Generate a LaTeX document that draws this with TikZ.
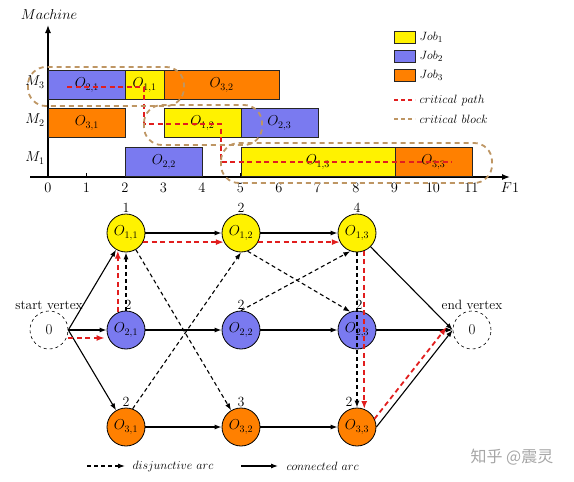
\documentclass[tikz,border=0pt]{standalone}
\usepackage{fontspec}
\newfontfamily\cjk{Noto Sans CJK SC}
\usetikzlibrary{arrows.meta,calc}
\definecolor{jobY}{RGB}{255,242,0}
\definecolor{jobB}{RGB}{122,122,240}
\definecolor{jobO}{RGB}{255,128,0}
\definecolor{critR}{RGB}{225,30,30}
\definecolor{blkT}{RGB}{190,150,100}
\begin{document}
\begin{tikzpicture}[x=1pt,y=-1pt,
  every node/.style={font=\fontsize{14}{16}\selectfont},
  bar/.style={draw=black!85, line width=0.8pt, minimum height=29pt, inner sep=0, anchor=south west},
  legbox/.style={draw=black!85, line width=0.8pt, minimum width=21pt, minimum height=12pt, inner sep=0},
  axis/.style={line width=1.3pt, -{Latex[length=8pt,width=6pt]}},
  critg/.style={critR, line width=1.8pt, dash pattern=on 5pt off 3.5pt},
  blk/.style={blkT, line width=1.8pt, dash pattern=on 5pt off 4pt, rounded corners=18pt},
  opn/.style={circle, draw, line width=0.8pt, minimum size=38pt, inner sep=0, font=\fontsize{14.5}{16}\selectfont},
  lbl/.style={inner sep=0.5pt, font=\fontsize{14}{16}\selectfont},
  con/.style={line width=1.1pt, -{Latex[length=7pt,width=5pt]}},
  dis/.style={line width=1.1pt, dash pattern=on 4pt off 3pt, -{Latex[length=7pt,width=5pt]}},
  crit/.style={critR, line width=1.8pt, dash pattern=on 5pt off 3.5pt, -{Latex[length=8pt,width=6pt]}},
  legt/.style={anchor=west, font=\fontsize{13}{15}\selectfont},
]
\useasboundingbox (0,0) rectangle (574,482);

% ---------------- Gantt chart ----------------
\foreach \i in {1,...,11} \draw[line width=0.6pt] (48+38.5*\i,177) -- (48+38.5*\i,173);
\draw[axis] (30,177) -- (510,177);
\draw[axis] (48,177) -- (48,25);
\node (mach) at (49,14) {$Machine$};
\node (f1) at (510,188) {$F1$};
\foreach \i in {0,...,11} \node (t\i) at (48+38.5*\i,188) {$\i$};
\node (m3) at (35,82) {$M_3$};
\node (m2) at (35,120) {$M_2$};
\node (m1) at (35,158) {$M_1$};

\node[bar, fill=jobB, minimum width=77pt]    (g21) at (48,100)    {$O_{2,1}$};
\node[bar, fill=jobY, minimum width=38.5pt]  (g11) at (125,100)   {$O_{1,1}$};
\node[bar, fill=jobO, minimum width=115.5pt] (g32) at (163.5,100) {$O_{3,2}$};
\node[bar, fill=jobO, minimum width=77pt]    (g31) at (48,138)    {$O_{3,1}$};
\node[bar, fill=jobY, minimum width=77pt]    (g12) at (163.5,138) {$O_{1,2}$};
\node[bar, fill=jobB, minimum width=77pt]    (g23) at (240.5,138) {$O_{2,3}$};
\node[bar, fill=jobB, minimum width=77pt]    (g22) at (125,177)   {$O_{2,2}$};
\node[bar, fill=jobY, minimum width=154pt]   (g13) at (240.5,177) {$O_{1,3}$};
\node[bar, fill=jobO, minimum width=77pt]    (g33) at (394.5,177) {$O_{3,3}$};

\draw[critg] (67,87) -| (144,124) -| (221,162) -- (452,162);
\draw[blk] (28,67) rectangle (184,106);
\draw[blk] (144,105) rectangle (262,145);
\draw[blk] (221,143) rectangle (492,183);

% legend
\node[legbox, fill=jobY] (lj1) at (404.5,37) {};
\node[legbox, fill=jobB] (lj2) at (404.5,56) {};
\node[legbox, fill=jobO] (lj3) at (404.5,75) {};
\node[legt] (tj1) at (416,37) {$Job_1$};
\node[legt] (tj2) at (416,56) {$Job_2$};
\node[legt] (tj3) at (416,75) {$Job_3$};
\coordinate (cp1) at (394,100); \coordinate (cp2) at (415,100);
\coordinate (cb1) at (394,119); \coordinate (cb2) at (415,119);
\draw[critR, line width=1.8pt, dash pattern=on 4pt off 3pt] (cp1) -- (cp2);
\draw[blkT, line width=1.8pt, dash pattern=on 4pt off 3pt] (cb1) -- (cb2);
\node[legt] (tcp) at (416,100) {$critical\ path$};
\node[legt] (tcb) at (416,119) {$critical\ block$};

% ---------------- Disjunctive graph ----------------
\node[opn, fill=jobY, label={[lbl]above:1}] (O11) at (126,233) {$O_{1,1}$};
\node[opn, fill=jobY, label={[lbl]above:2}] (O12) at (241,233) {$O_{1,2}$};
\node[opn, fill=jobY, label={[lbl]above:4}] (O13) at (357,233) {$O_{1,3}$};
\node[opn, fill=jobB, label={[lbl,xshift=2pt]above:2}] (O21) at (126,330) {$O_{2,1}$};
\node[opn, fill=jobB, label={[lbl]above:2}] (O22) at (241,330) {$O_{2,2}$};
\node[opn, fill=jobB, label={[lbl,xshift=2pt]above:2}] (O23) at (357,330) {$O_{2,3}$};
\node[opn, fill=jobO, label={[lbl]above:2}] (O31) at (126,427) {$O_{3,1}$};
\node[opn, fill=jobO, label={[lbl]above:3}] (O32) at (241,427) {$O_{3,2}$};
\node[opn, fill=jobO, label={[lbl,xshift=-8pt]above:2}] (O33) at (357,427) {$O_{3,3}$};
\node[opn, dashed, line width=0.6pt, font=\fontsize{15}{17}\selectfont,
      label={[lbl,font=\fontsize{13.5}{15}\selectfont]above:start vertex}] (S) at (49,330) {0};
\node[opn, dashed, line width=0.6pt, font=\fontsize{15}{17}\selectfont,
      label={[lbl,font=\fontsize{13.5}{15}\selectfont]above:end vertex}] (E) at (472,330) {0};

% connected arcs
\draw[con] (S.east) -- (O11);
\draw[con] (S.east) -- (O21);
\draw[con] (S.east) -- (O31);
\draw[con] (O11) -- (O12);
\draw[con] (O12) -- (O13);
\draw[con] (O21) -- (O22);
\draw[con] (O22) -- (O23);
\draw[con] (O31) -- (O32);
\draw[con] (O32) -- (O33);
\draw[con] (O13) -- (E.west);
\draw[con] (O23) -- (E.west);
\draw[con] (O33.east) -- (E.west);

% disjunctive arcs
\draw[dis] (O21) -- (O11);
\draw[dis] (O11) -- (O32);
\draw[dis] (O31.70) -- (O12.south);
\draw[dis] (O12.-70) -- (O23.110);
\draw[dis] (O22.north) -- (O13.250);
\draw[dis] (O13.south) -- (O33.north);

% critical path
\draw[crit] ([yshift=-8pt]S.east) -- ([yshift=-8pt,xshift=-2pt]O21.west);
\draw[crit] (O21.115) -- (O11.245);
\draw[crit] (O11.-28) -- (O12.208);
\draw[crit] (O12.-28) -- (O13.208);
\draw[crit] (O13.-68) -- (O33.68);
\draw[crit] ([xshift=-2pt,yshift=8pt]O33.east) -- ([xshift=-6pt,yshift=3pt]E.west);

% legend
\coordinate (ld1) at (87,466); \coordinate (ld2) at (125,466);
\coordinate (lc1) at (241,466); \coordinate (lc2) at (278,466);
\draw[dis] (ld1) -- (ld2);
\node[legt] (tdis) at (129,466) {$disjunctive\ arc$};
\draw[con] (lc1) -- (lc2);
\node[legt] (tcon) at (283,466) {$connected\ arc$};

\node[text=black!35, font=\cjk\fontsize{16}{18}\selectfont] (wm) at (512,457) {知乎 @震灵};
\end{tikzpicture}
\end{document}
